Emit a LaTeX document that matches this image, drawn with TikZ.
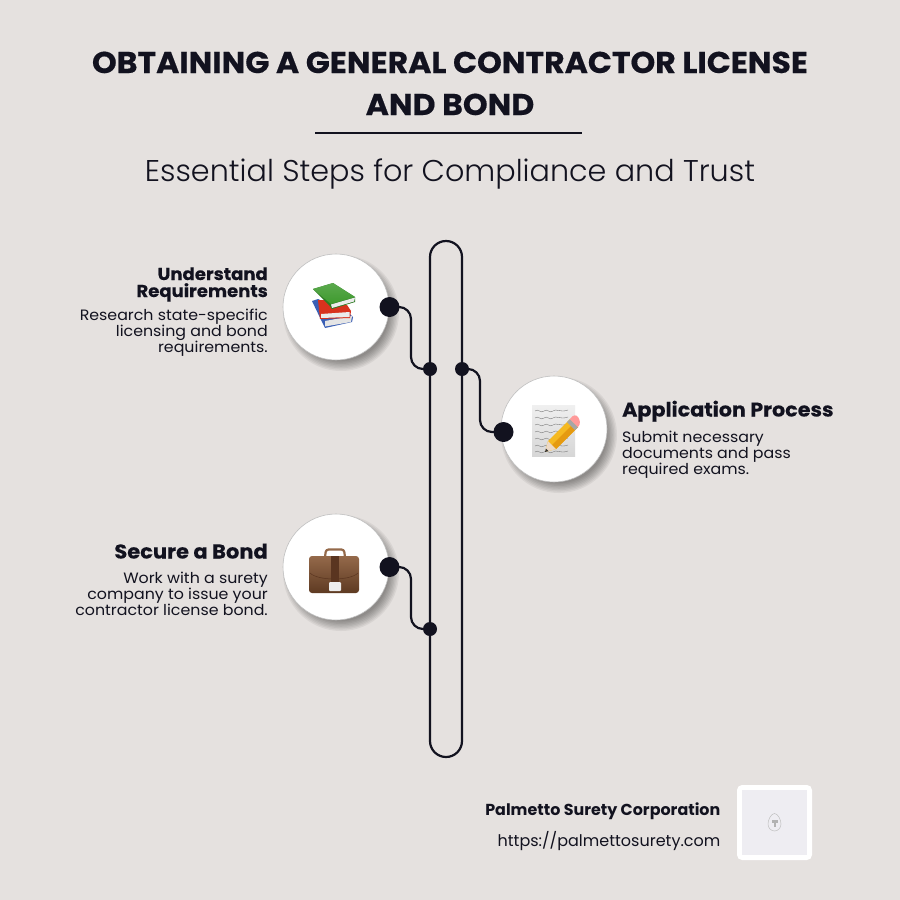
\documentclass[tikz,border=0pt]{standalone}
\usepackage{fontspec}
\setmainfont{Poppins}
\newfontfamily\ptitle[FakeStretch=1.05,FakeBold=0.5]{Poppins Bold}
\newfontfamily\phead[FakeStretch=1.05,FakeBold=0.3]{Poppins Bold}
\newfontfamily\pbody[FakeStretch=1.055]{Poppins}
\newfontfamily\psub[FakeStretch=1.008]{Poppins Light}
\usetikzlibrary{calc}
\definecolor{bgc}{HTML}{E5E1DF}
\definecolor{ink}{HTML}{12121F}
\definecolor{logobg}{HTML}{EEEDF2}
\definecolor{bkgreen}{HTML}{3E9A2E}
\definecolor{bkgreend}{HTML}{2C7A22}
\definecolor{bkred}{HTML}{D8321E}
\definecolor{bkblue}{HTML}{3A5FB5}
\definecolor{casetop}{HTML}{94694A}
\definecolor{casebot}{HTML}{5E3A22}
\definecolor{casestrap}{HTML}{5A3520}
\definecolor{pencily}{HTML}{F5B921}
\definecolor{penciln}{HTML}{E59A10}
\tikzset{
  disc/.style={circle,fill=white,draw=black!25,line width=.6pt,minimum size=106pt,inner sep=0pt},
  bigdot/.style={circle,fill=ink,minimum size=20pt,inner sep=0pt},
  smalldot/.style={circle,fill=ink,minimum size=14pt,inner sep=0pt},
  wire/.style={draw=ink,line width=2.2pt,rounded corners=12pt},
  lhead/.style={anchor=base east,align=right,inner sep=0pt,text=ink,font=\fontsize{17.2}{17}\phead},
  lbody/.style={anchor=base east,align=right,inner sep=0pt,text=ink,font=\fontsize{15}{16}\pbody},
  rhead/.style={anchor=base west,align=left,inner sep=0pt,text=ink,font=\fontsize{19.7}{17}\phead},
  rbody/.style={anchor=base west,align=left,inner sep=0pt,text=ink,font=\fontsize{15}{16}\pbody},
  scrib/.style={draw=black!55,line width=.35pt}
}
\newcommand{\softshadow}[3]{%
  \foreach \k in {0,...,7}{\fill[black,opacity=.055] (#1+5,#2+6) circle ({#3+5-\k*1.4});}}
\begin{document}
\begin{tikzpicture}[x=1pt,y=-1pt]
\useasboundingbox (0,0) rectangle (900,900);
\fill[bgc] (0,0) rectangle (900,900);

% title
\node[text=ink,inner sep=0pt,anchor=base] (t1) at (450,73) {\fontsize{30}{30}\ptitle OBTAINING A GENERAL CONTRACTOR LICENSE};
\node[text=ink,inner sep=0pt,anchor=base] (t2) at (450,115) {\fontsize{30}{30}\ptitle AND BOND};
\draw[ink,line width=2pt] (315,132.5) -- (582,132.5);
\node[text=ink,inner sep=0pt,anchor=base] (sub) at (450,181) {\fontsize{30}{30}\psub Essential Steps for Compliance and Trust};

% spine
\draw[draw=ink,line width=2.2pt,rounded corners=16pt] (430,241) rectangle (462,757);

% discs
\softshadow{336}{307}{53}
\softshadow{554}{429}{53}
\softshadow{336}{567}{53}
\node[disc] (c1) at (336,307) {};
\node[disc] (c2) at (554,429) {};
\node[disc] (c3) at (336,567) {};

% dots
\node[bigdot] (d1) at (389.5,307) {};
\node[bigdot] (d2) at (503.5,432) {};
\node[bigdot] (d3) at (389.5,567) {};
\node[smalldot] (j1) at (430,369) {};
\node[smalldot] (j2) at (462,369) {};
\node[smalldot] (j3) at (430,629) {};

\coordinate (a1) at (411,307); \coordinate (b1) at (411,369);
\coordinate (a2) at (480,369); \coordinate (b2) at (480,432);
\coordinate (a3) at (411,567); \coordinate (b3) at (411,629);
\draw[wire] (d1.center) -- (a1) -- (b1) -- (j1.center);
\draw[wire] (j2.center) -- (a2) -- (b2) -- (d2.center);
\draw[wire] (d3.center) -- (a3) -- (b3) -- (j3.center);

% books icon
\fill[bkblue] (312,301) -- (318,299) -- (350,314) -- (353,317) -- (352,322) -- (325,328) -- (323,324) -- cycle;
\fill[white!90!black] (325,321) -- (352,316) -- (351,322) -- (325,326.5) -- cycle;
\fill[bkred] (318,300) -- (330,300) -- (347,305) -- (351,311) -- (350,318) -- (320,319) -- cycle;
\fill[white!92!black] (321,314) -- (349.5,312) -- (349.5,317) -- (321,318) -- cycle;
\fill[bkgreend] (313,289) -- (333,283) -- (355,297) -- (355,302) -- (332,309) -- (329,305) -- cycle;
\shade[top color=bkgreen!85!white,bottom color=bkgreen] (313,289) -- (333,283) -- (355,297) -- (331,304) -- cycle;
\fill[white!92!black] (331,304.5) -- (355,297.5) -- (354,301.5) -- (332,308) -- cycle;

% memo icon
\shade[top color=black!6,bottom color=black!16] (532,405) rectangle (575,456);
\foreach \yy in {411,418,425,432,439,446,452}{
  \draw[scrib] (535,\yy) .. controls (538,\yy-3) and (541,\yy+3) .. (544,\yy) .. controls (547,\yy-3) and (550,\yy+3) .. (553,\yy) .. controls (556,\yy-3) and (560,\yy+2) .. (568,\yy-1);}
\fill[pencily] (545,452) -- (548,441) -- (570,419) -- (578,427) -- (556,449) -- cycle;
\fill[penciln] (552,445) -- (574,423) -- (578,427) -- (556,449) -- cycle;
\fill[brown!30!white] (545,452) -- (548,441) -- (556,449) -- cycle;
\fill[black!80] (545,452) -- (546,448.5) -- (548.5,451) -- cycle;
\fill[black!35] (567,422) -- (570,419) -- (578,427) -- (575,430) -- cycle;
\fill[red!40!white] (570,419) .. controls (573,414) and (577,415) .. (578,417) .. controls (580,420) and (581,424) .. (578,427) -- cycle;

% briefcase icon
\draw[casetop,line width=2.2pt,rounded corners=2.5pt] (325,557) -- (326,549.5) -- (344,549.5) -- (345,557);
\shade[top color=casetop,bottom color=casebot,rounded corners=3pt] (309,556) rectangle (359,593);
\fill[casestrap] (331,556) rectangle (339,583);
\draw[casestrap,line width=.5pt] (310,573) .. controls (318,581) and (350,581) .. (358,573);
\fill[black!7,rounded corners=1pt] (329,582) rectangle (341,591);

% labels
\node[lhead] (h1) at (268,297) {Understand\\Requirements};
\node[lbody] (b1t) at (268,352.5) {Research state-specific\\licensing and bond\\requirements.};
\node[rhead] (h2) at (622,416.5) {Application Process};
\node[rbody] (b2t) at (622,474.5) {Submit necessary\\documents and pass\\required exams.};
\node[lhead,font=\fontsize{20}{17}\phead] (h3) at (268,558.5) {Secure a Bond};
\node[lbody] (b3t) at (268,615.5) {Work with a surety\\company to issue your\\contractor license bond.};

% footer
\node[anchor=base east,inner sep=0pt,text=ink] (f1) at (720.5,815) {\fontsize{15.9}{16}\selectfont\bfseries Palmetto Surety Corporation};
\node[anchor=base east,inner sep=0pt,text=ink] (f2) at (720.5,846) {\fontsize{16}{16}\selectfont https://palmettosurety.com};
\fill[white,rounded corners=5pt] (737,785) rectangle (812,860);
\fill[logobg] (742,790) rectangle (807,855);
\draw[black!25,line width=.5pt] (774.5,813.5) .. controls (778,813.5) and (781,820) .. (781,824) .. controls (781,828) and (778,831) .. (774.5,831) .. controls (771,831) and (768,828) .. (768,824) .. controls (768,820) and (771,813.5) .. (774.5,813.5) -- cycle;
\fill[black!30] (771.5,820) rectangle (777.5,822.5);
\fill[black!30] (773.5,822.5) rectangle (775.5,827);
\end{tikzpicture}
\end{document}
